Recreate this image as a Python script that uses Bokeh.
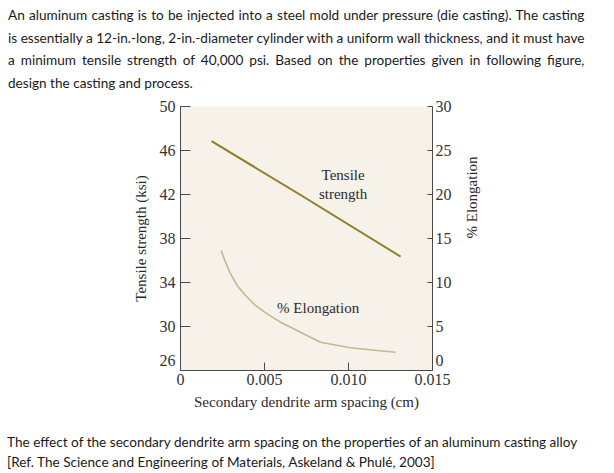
import math
from bokeh.plotting import figure
from bokeh.models import (LinearAxis, Range1d, FixedTicker, CustomJSTickFormatter,
                          Label, Div)
from bokeh.layouts import column
from bokeh.embed import file_html
from bokeh.resources import INLINE

# ---- data ----
spacing_ts = [0.00185, 0.0071, 0.0131]          # cm
tensile_ksi = [46.85, 42.0, 36.36]

spacing_el = [0.00242, 0.00268, 0.00298, 0.00337, 0.00387, 0.00446, 0.00516,
              0.00595, 0.00674, 0.00714, 0.00833, 0.01012, 0.01171, 0.0128]
elongation_pct = [13.64, 12.31, 10.99, 9.66, 8.52, 7.39, 6.44,
                  5.49, 4.74, 4.35, 3.22, 2.58, 2.27, 2.08]

x_ticks = [0, 0.005, 0.010, 0.015]
y_left_ticks = [26, 30, 34, 38, 42, 46, 50]
y_right_ticks = [0, 5, 10, 15, 20, 25, 30]

paragraph_lines = [
    "An aluminum casting is to be injected into a steel mold under pressure (die casting). The casting",
    "is essentially a 12-in.-long, 2-in.-diameter cylinder with a uniform wall thickness, and it must have",
    "a minimum tensile strength of 40,000 psi. Based on the properties given in following figure,",
    "design the casting and process.",
]
caption_lines = [
    "The effect of the secondary dendrite arm spacing on the properties of an aluminum casting alloy",
    "[Ref. The Science and Engineering of Materials, Askeland &amp; Phulé, 2003]",
]

SERIF = "Liberation Serif"
SANS = "Lato"

# ---- top paragraph ----
html_lines = []
for i, line in enumerate(paragraph_lines):
    last = i == len(paragraph_lines) - 1
    align = "left" if last else "justify"
    html_lines.append(
        f'<div style="text-align:{align};text-align-last:{align};white-space:nowrap;">{line}</div>'
    )
top_div = Div(
    text="".join(html_lines),
    width=614, height=96, margin=(0, 0, 0, 0),
    styles={"font-family": SANS, "font-size": "13.6px", "line-height": "22.5px",
            "color": "#1a1a1a", "padding": "4px 7px 0px 8px", "box-sizing": "border-box",
            "width": "614px"},
)

# ---- chart ----
p = figure(frame_width=252, frame_height=264,
           min_border_left=180, min_border_right=182,
           min_border_top=10, min_border_bottom=54,
           x_range=Range1d(0, 0.015), y_range=Range1d(26, 50),
           output_backend="svg", toolbar_location=None,
           margin=(0, 0, 0, 0))
p.extra_y_ranges = {"el": Range1d(0, 30)}
p.outline_line_color = None
p.background_fill_color = "#f6f2ea"
p.border_fill_color = "white"
p.xgrid.visible = False
p.ygrid.visible = False

def style_axis(ax):
    ax.axis_line_color = "#4a4a4a"
    ax.major_tick_line_color = "#4a4a4a"
    ax.minor_tick_line_color = None
    ax.major_tick_out = 0
    ax.major_label_text_font = SERIF
    ax.major_label_text_font_size = "16px"
    ax.major_label_text_color = "#333333"
    ax.axis_label_text_font = SERIF
    ax.axis_label_text_font_size = "15px"
    ax.axis_label_text_font_style = "normal"
    ax.axis_label_text_color = "#2a2a2a"

xa = p.xaxis[0]
style_axis(xa)
xa.ticker = FixedTicker(ticks=x_ticks)
xa.formatter = CustomJSTickFormatter(code="return tick == 0 ? '0' : tick.toFixed(3);")
xa.major_tick_in = 8
xa.major_label_standoff = 3
xa.axis_label = "Secondary dendrite arm spacing (cm)"
xa.axis_label_standoff = 6

# the lowest tick labels sit a little above the axis line in the reference:
# a blank second line lifts them by half a line
ya = p.yaxis[0]
style_axis(ya)
ya.ticker = FixedTicker(ticks=y_left_ticks)
ya.major_tick_in = 10
ya.major_label_standoff = 5
ya.major_label_overrides = {y_left_ticks[0]: f"{y_left_ticks[0]}\n\u00a0"}
ya.axis_label = "Tensile strength (ksi)"
ya.axis_label_standoff = 8

ra = LinearAxis(y_range_name="el")
style_axis(ra)
ra.ticker = FixedTicker(ticks=y_right_ticks)
ra.major_tick_in = 5
ra.major_label_standoff = 3
ra.major_label_overrides = {y_right_ticks[0]: f"{y_right_ticks[0]}\n\u00a0"}
ra.axis_label = "% Elongation"
ra.axis_label_standoff = 17
ra.axis_label_orientation = math.pi / 2
p.add_layout(ra, "right")

p.line(spacing_ts, tensile_ksi, line_color="#8f7f22", line_width=2)
p.line(spacing_el, elongation_pct, y_range_name="el", line_color="#c4b78e", line_width=1.6)

for txt, x, y in [("Tensile", 0.00968, 43.8), ("strength", 0.00968, 42.05),
                  ("% Elongation", 0.00819, 31.7)]:
    p.add_layout(Label(x=x, y=y, text=txt, text_align="center", text_baseline="middle",
                       text_font=SERIF, text_font_size="15px", text_color="#2a2a2a"))

# ---- caption ----
cap_div = Div(
    text="<br>".join(caption_lines),
    width=614, height=53, margin=(0, 0, 0, 0),
    styles={"font-family": SANS, "font-size": "13.6px", "line-height": "19.5px",
            "color": "#1a1a1a", "padding": "9px 0px 0px 7px", "white-space": "nowrap"},
)

layout = column(top_div, p, cap_div, spacing=0, margin=(0, 0, 0, 0))
open("out.html", "w").write(file_html(layout, INLINE))
